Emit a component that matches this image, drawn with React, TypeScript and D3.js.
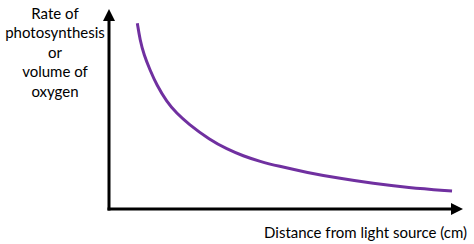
import React from "react";
import * as d3 from "d3";

const distance = [8.0, 8.76, 9.89, 11.58, 13.47, 16.3, 19.1, 22.3, 28.5, 33.3, 37.9, 42.7, 47.7, 55.9, 65.3, 74.6, 84.2, 96.9];
const rate = [92.85, 84.5, 77, 69.5, 62, 53.65, 47.85, 42.75, 34.5, 30, 26.5, 23.75, 21.5, 18.25, 15.25, 12.75, 10.75, 9];
const yLabelLines = ["Rate of", "photosynthesis", "or", "volume of", "oxygen"];
const xLabel = "Distance from light source (cm)";

const W = 474;
const H = 244;
const FONT = "Lato, 'Noto Sans', sans-serif";

export default function App() {
  const x = d3.scaleLinear().domain([0, 100]).range([109, 463]);
  const y = d3.scaleLinear().domain([0, 100]).range([209, 9]);
  const pts: [number, number][] = distance.map((d, i) => [d, rate[i]]);
  const line = d3
    .line<[number, number]>()
    .x((d) => x(d[0]))
    .y((d) => y(d[1]))
    .curve(d3.curveBasis);

  const x0 = x(0);
  const y0 = y(0);
  const xEnd = x(100);
  const yEnd = y(100);

  return (
    <svg
      width={W}
      height={H}
      style={{ position: "absolute", left: 0, top: 0, background: "#fff" }}
    >
      <path d={line(pts) || ""} fill="none" stroke="#7030a0" strokeWidth={3} strokeLinecap="butt" />
      {/* y axis */}
      <line x1={x0} y1={y0 + 1.5} x2={x0} y2={yEnd + 10} stroke="#000" strokeWidth={3} />
      <path d={`M${x0},${yEnd} L${x0 - 6},${yEnd + 12} L${x0 + 6},${yEnd + 12} Z`} fill="#000" />
      {/* x axis */}
      <line x1={x0 - 1.5} y1={y0} x2={xEnd - 10} y2={y0} stroke="#000" strokeWidth={3} />
      <path d={`M${xEnd},${y0} L${xEnd - 12},${y0 - 6} L${xEnd - 12},${y0 + 6} Z`} fill="#000" />
      <text fontFamily={FONT} fontSize={15} fill="#000" textAnchor="middle">
        {yLabelLines.map((t, i) => (
          <tspan key={i} x={55} y={18.5 + i * 19.5}>
            {t}
          </tspan>
        ))}
      </text>
      <text x={467} y={238} fontFamily={FONT} fontSize={15} fill="#000" textAnchor="end">
        {xLabel}
      </text>
    </svg>
  );
}
